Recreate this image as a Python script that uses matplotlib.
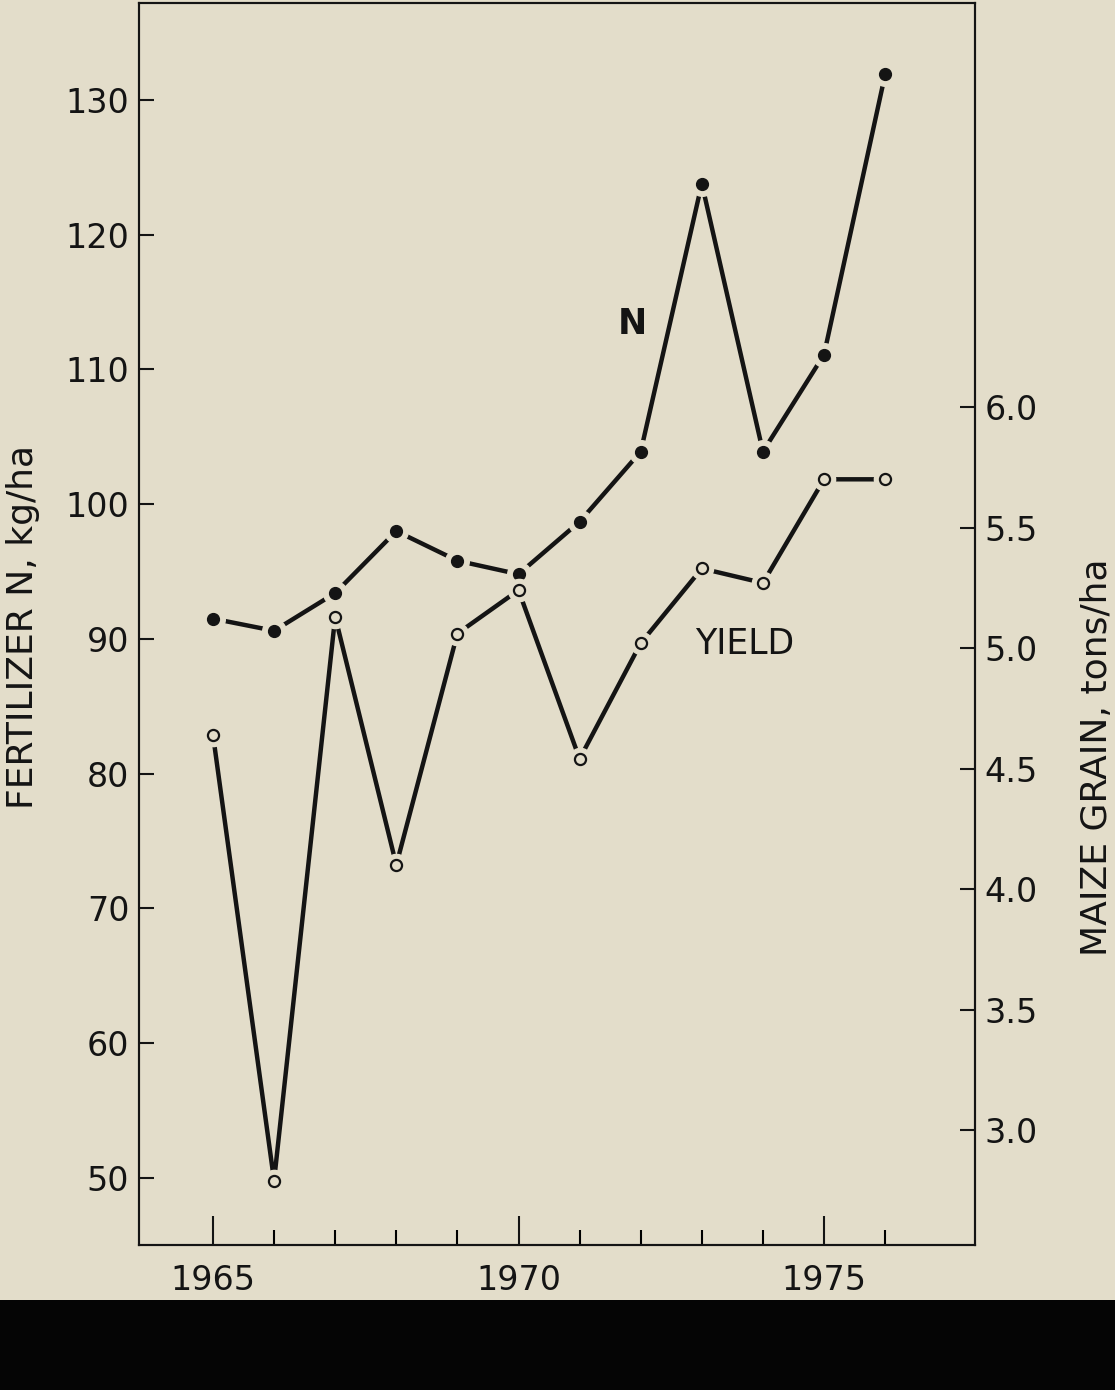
import matplotlib
matplotlib.use('Agg')
import matplotlib.pyplot as plt
from matplotlib.patches import Rectangle

# 数据
years = [1965, 1966, 1967, 1968, 1969, 1970, 1971, 1972, 1973, 1974, 1975, 1976]
fert_n = [91.5, 90.6, 93.4, 98.0, 95.8, 94.8, 98.7, 103.9, 123.8, 103.9, 111.1, 131.9]
maize_yield = [4.64, 2.79, 5.13, 4.10, 5.06, 5.24, 4.54, 5.02, 5.33, 5.27, 5.70, 5.70]

n_ticks = [50, 60, 70, 80, 90, 100, 110, 120, 130]
yield_ticks = [3.0, 3.5, 4.0, 4.5, 5.0, 5.5, 6.0]
year_major = [1965, 1970, 1975]

paper = '#e3ddca'
ink = '#141414'

plt.rcParams['font.family'] = ['DejaVu Sans']

fig = plt.figure(figsize=(11.15, 13.9), dpi=100, facecolor=paper)
ax = fig.add_axes([0.1247, 0.1043, 0.7497, 0.8935])
ax.set_facecolor(paper)
ax2 = ax.twinx()

# 氮肥曲线（实心点），点周围留白
ax.plot(years, fert_n, color=ink, lw=3.2, solid_joinstyle='miter', zorder=2)
ax.plot(years, fert_n, ls='none', marker='o', ms=17, mfc=paper, mec=paper, zorder=3)
ax.plot(years, fert_n, ls='none', marker='o', ms=8.5, mfc=ink, mec=ink, zorder=4)

# 产量曲线（空心点）
ax2.plot(years, maize_yield, color=ink, lw=3.2, solid_joinstyle='miter', zorder=2)
ax2.plot(years, maize_yield, ls='none', marker='o', ms=16, mfc=paper, mec=paper, zorder=3)
ax2.plot(years, maize_yield, ls='none', marker='o', ms=8, mfc=paper, mec=ink, mew=1.6, zorder=4)

ax.set_xlim(1963.79, 1977.47)
ax.set_ylim(45.0, 137.2)
ax2.set_ylim(2.523, 7.676)

ax.set_xticks(year_major)
ax.set_xticklabels([str(y) for y in year_major])
ax.set_xticks(years, minor=True)
ax.set_yticks(n_ticks)
ax2.set_yticks(yield_ticks)
ax2.set_yticklabels([f'{v:.1f}' for v in yield_ticks])

ax.tick_params(axis='x', which='major', direction='in', length=21, width=1.5,
               labelsize=24, pad=14, colors=ink)
ax.tick_params(axis='x', which='minor', direction='in', length=10.5, width=1.5)
ax.tick_params(axis='y', direction='in', length=11, width=1.5, labelsize=24,
               pad=7, colors=ink)
ax2.tick_params(axis='y', direction='in', length=11, width=1.5, labelsize=24,
                pad=7, colors=ink)

for a in (ax, ax2):
    for s in a.spines.values():
        s.set_linewidth(1.5)
        s.set_color(ink)

# 曲线标注
ax.text(1971.87, 113.4, 'N', fontsize=25, fontweight='bold', color=ink,
        ha='center', va='center')
ax.text(1973.7, 89.6, 'YIELD', fontsize=25, color=ink, ha='center', va='center')

# 坐标轴标题
fig.text(23 / 1115, 1 - 627 / 1390, 'FERTILIZER N, kg/ha', rotation=90,
         fontsize=26, color=ink, ha='center', va='center')
fig.text(1097 / 1115, 1 - 757 / 1390, 'MAIZE GRAIN, tons/ha', rotation=90,
         fontsize=26, color=ink, ha='center', va='center')

# 底部黑色条
fig.patches.append(Rectangle((0, 0), 1, 90 / 1390, transform=fig.transFigure,
                             facecolor='#050505', edgecolor='none', zorder=10))

fig.savefig('out.png', dpi=100, facecolor=paper)
